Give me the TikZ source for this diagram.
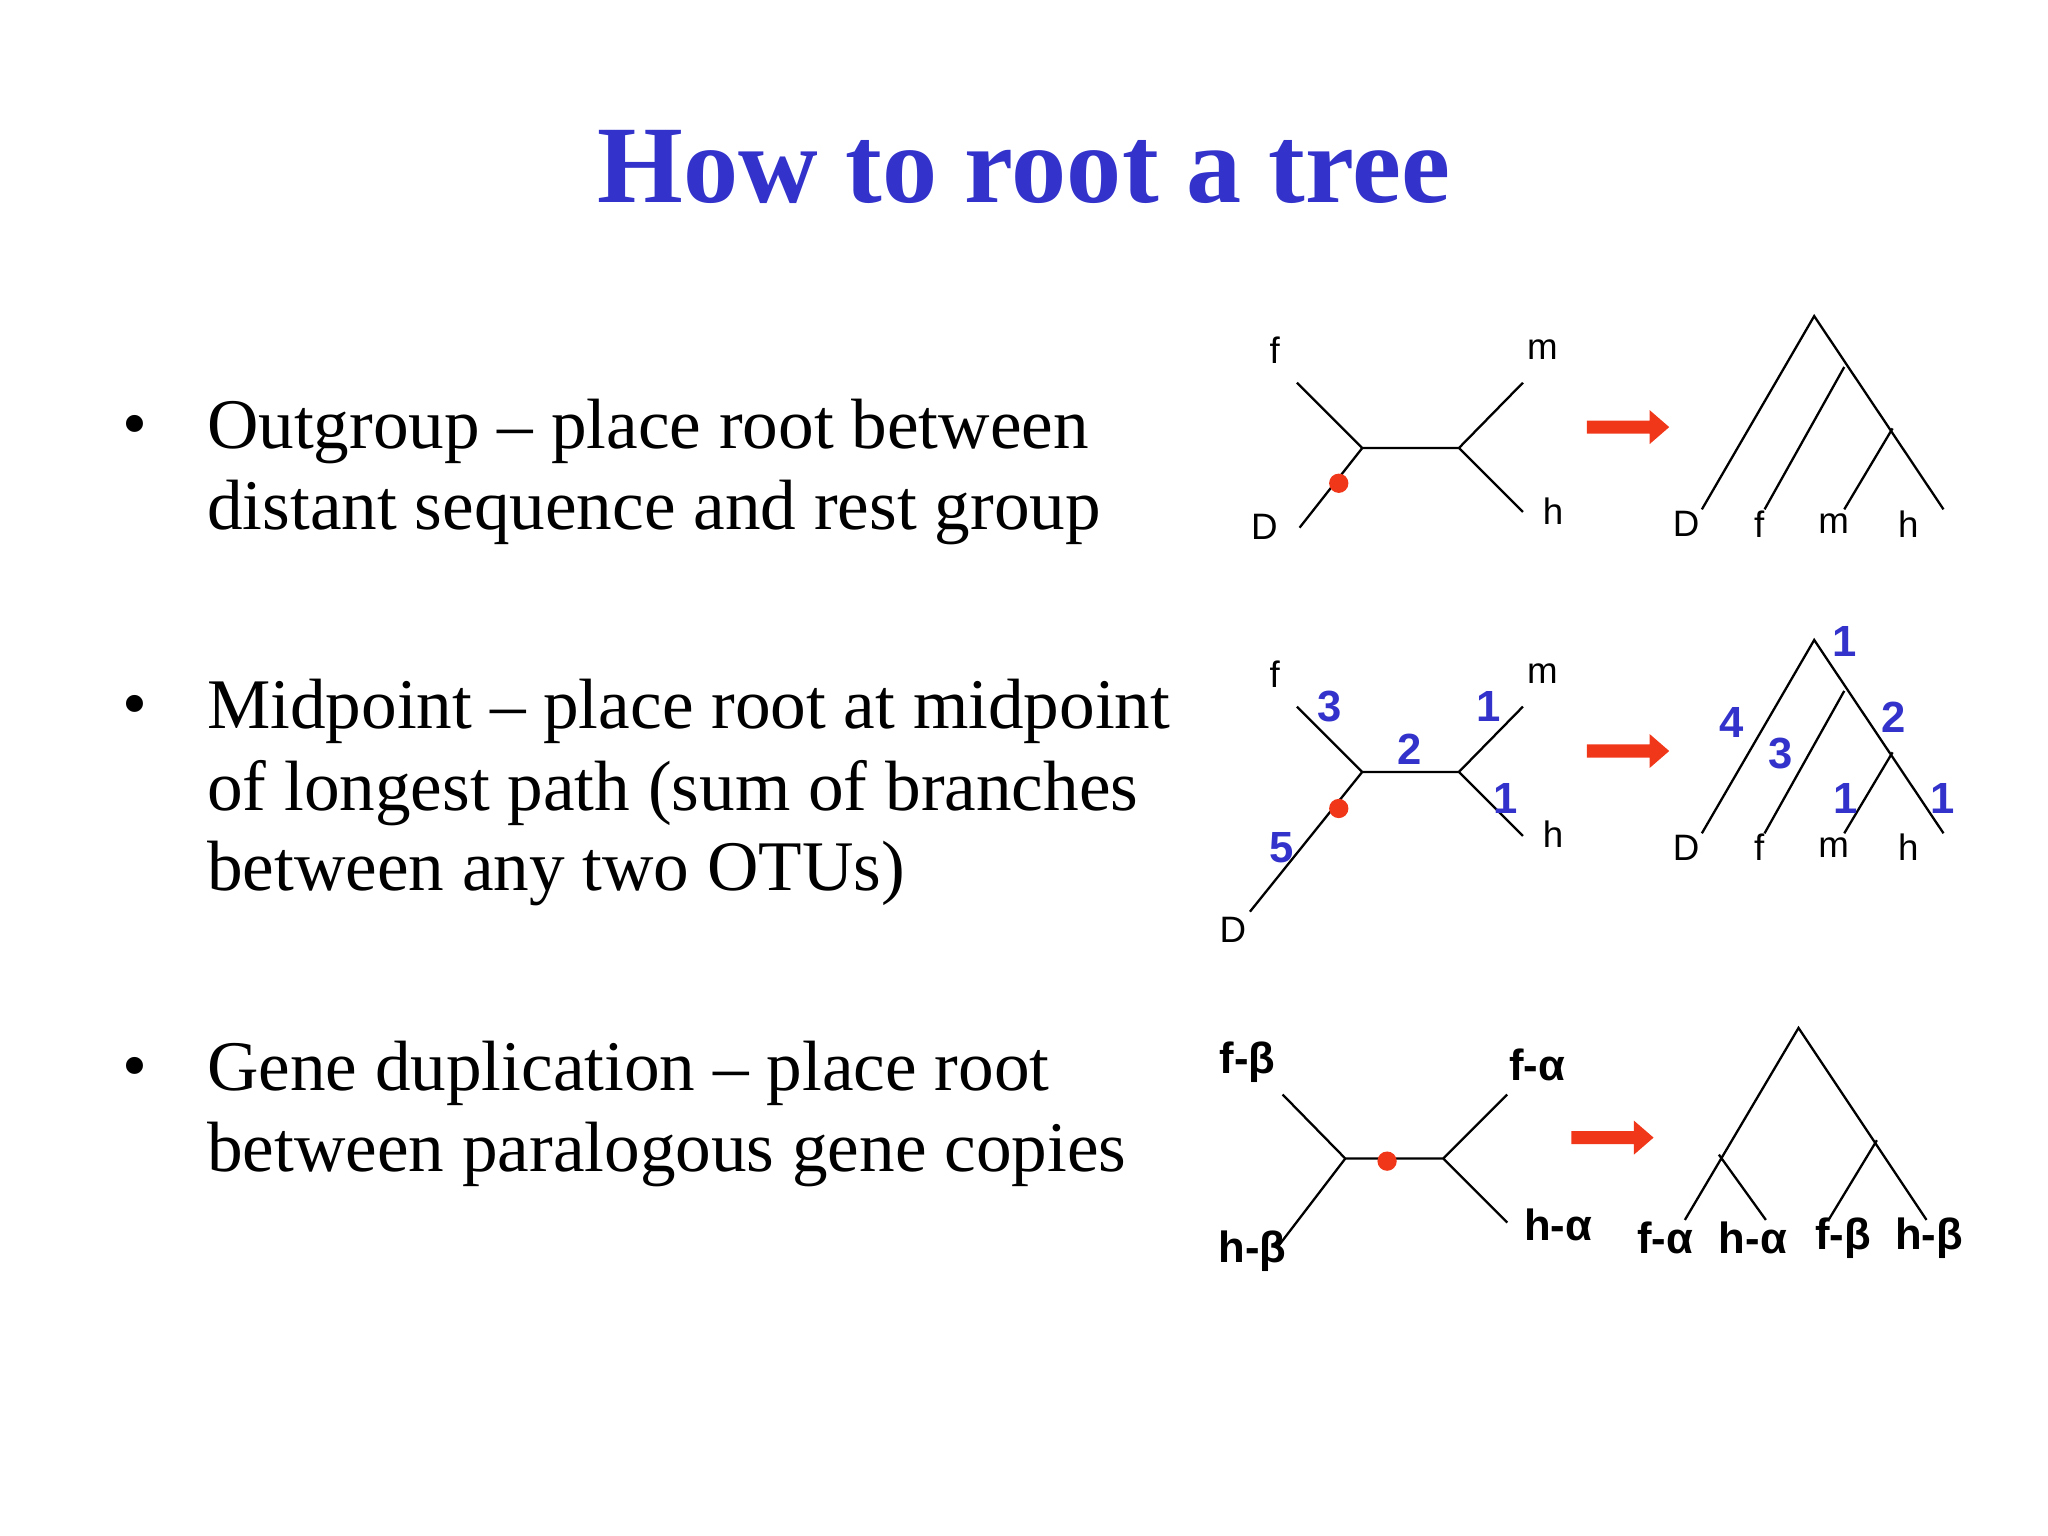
\documentclass[tikz,border=0pt]{standalone}
\usepackage{fontspec}
\setmainfont{Liberation Serif}
\newfontfamily\lsans{Liberation Sans}
\definecolor{ttl}{RGB}{51,51,204}
\definecolor{rdot}{RGB}{240,55,25}
\begin{document}
\begin{tikzpicture}[x=0.01cm,y=-0.01cm,line width=0.5pt,
  lab/.style={font=\lsans\fontsize{8}{9}\selectfont},
  blab/.style={font=\lsans\bfseries\fontsize{9.5}{10}\selectfont},
  num/.style={font=\lsans\bfseries\fontsize{9.5}{10}\selectfont,text=ttl},
  body/.style={anchor=west,font=\fontsize{15.5}{18}\selectfont},
  rdotst/.style={circle,fill=rdot,inner sep=0pt,minimum size=4.2pt}]
\path[use as bounding box] (0,0) rectangle (1568,1176);
\node[font=\bfseries\fontsize{24}{28}\selectfont,text=ttl] (title) at (784,128) {How to root a tree};
% bullets
\foreach \y/\t in {330/{Outgroup -- place root between},392/{distant sequence and rest group},
545/{Midpoint -- place root at midpoint},607/{of longest path (sum of branches},669/{between any two OTUs)},
822/{Gene duplication -- place root},884/{between paralogous gene copies}}
  \node[body] at (146,\y) {\t};
\foreach \y in {330,545,822} \node[font=\fontsize{15.5}{18}\selectfont] at (103,\y) {•};
% arrow macro
\foreach \x/\y in {1215/327,1215/575,1203/871}{
  \fill[rdot] (\x,\y-5) -- (\x+48,\y-5) -- (\x+48,\y-13) -- (\x+63,\y) -- (\x+48,\y+13) -- (\x+48,\y+5) -- (\x,\y+5) -- cycle;}
% ---- tree 1
\foreach \dy/\k in {0/a,248/b}{
\begin{scope}[yshift=-\dy*0.01cm]
\coordinate (L\k) at (1043,343); \coordinate (R\k) at (1117,343);
\draw (L\k) -- (R\k) (L\k) -- (993,293) (R\k) -- (1166,293) (R\k) -- (1166,392);
\coordinate (A\k) at (1389,242); \coordinate (N1\k) at (1412,281); \coordinate (N2\k) at (1449,328);
\draw (1303,390) -- (A\k) -- (1488,390) (N1\k) -- (1351,390) (N2\k) -- (1412,390);
\node[lab] at (976,268) {f}; \node[lab] at (1181,268) {m}; \node[lab] at (1189,391) {h};
\node[lab] at (1291,401) {D}; \node[lab] at (1347,401) {f}; \node[lab] at (1404,401) {m}; \node[lab] at (1461,401) {h};
\end{scope}}
\draw (La) -- (995,404); \node[lab] at (968,403) {D};
\node[rdotst] (d1) at (1025,370) {};
\draw (Lb) -- (957,698); \node[lab] at (944,712) {D};
\node[rdotst] (d2) at (1025,619) {};
\node[num] at (1018,541) {3}; \node[num] at (1079,574) {2}; \node[num] at (1140,541) {1};
\node[num] at (1153,611) {1}; \node[num] at (981,649) {5};
\node[num] at (1412,491) {1}; \node[num] at (1326,553) {4}; \node[num] at (1450,549) {2};
\node[num] at (1363,577) {3}; \node[num] at (1413,611) {1}; \node[num] at (1487,611) {1};
% ---- tree 3
\coordinate (L3) at (1030,887); \coordinate (R3) at (1105,887);
\draw (L3) -- (R3) (L3) -- (982,838) (L3) -- (978,955) (R3) -- (1154,838) (R3) -- (1154,936);
\node[rdotst] (d3) at (1062,889) {};
\node[blab] at (955,813) {f-β}; \node[blab] at (1177,815) {f-α};
\node[blab] at (1193,938) {h-α}; \node[blab] at (959,958) {h-β};
\coordinate (A3) at (1377,787); \coordinate (P3) at (1316,884); \coordinate (Q3) at (1437,873);
\draw (1290,934) -- (A3) -- (1475,934) (P3) -- (1352,934) (Q3) -- (1400,934);
\node[blab] at (1275,948) {f-α}; \node[blab] at (1342,948) {h-α};
\node[blab] at (1411,948) {f-β}; \node[blab] at (1477,948) {h-β};
\end{tikzpicture}
\end{document}
